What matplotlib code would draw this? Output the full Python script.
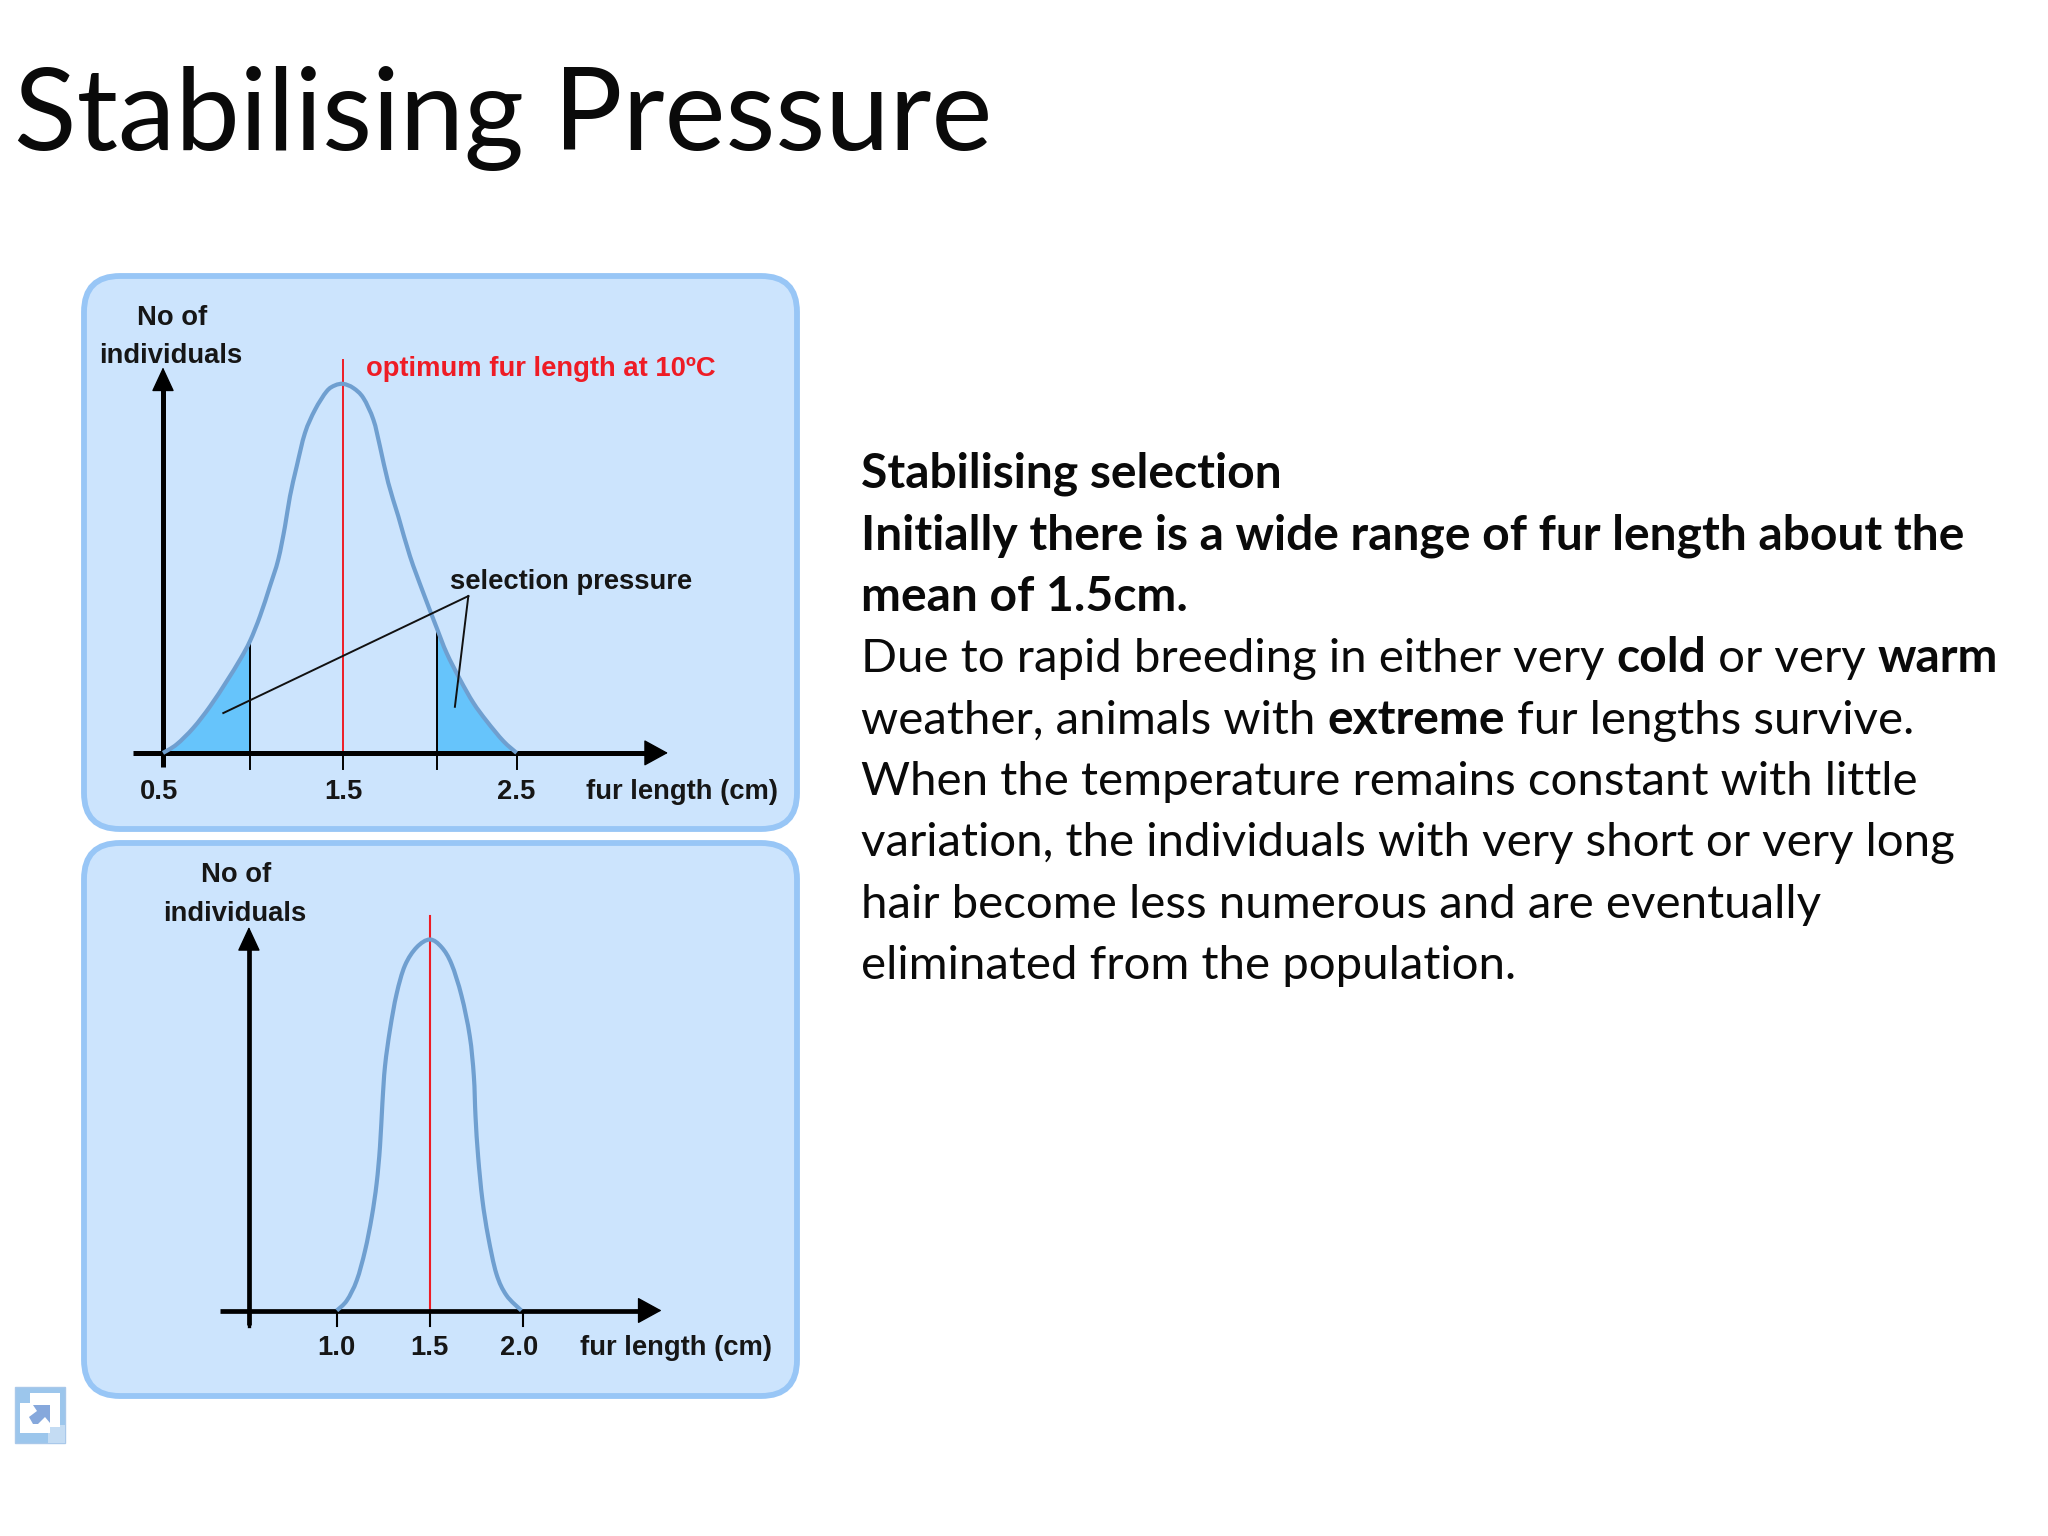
import matplotlib
matplotlib.use("Agg")
import matplotlib.pyplot as plt
from matplotlib.patches import FancyBboxPatch, Rectangle, Polygon, PathPatch
from matplotlib.path import Path

W, H = 2048, 1536
BODY = "Lato"
CHART = "Liberation Sans"

# upper graph: fur length (cm) and number of individuals (peak = 100)
x1 = [0.50, 0.577, 0.672, 0.766, 0.860, 0.936, 0.992, 1.049, 1.105, 1.152, 1.190, 1.218, 1.256, 1.303,
      1.360, 1.426, 1.473, 1.52, 1.576, 1.633, 1.69, 1.727, 1.774, 1.831, 1.897, 1.972, 2.048, 2.104,
      2.18, 2.255, 2.331, 2.425, 2.50]
y1 = [0.0, 2.3, 6.8, 12.6, 19.4, 25.3, 30.3, 37.1, 45.2, 52.4, 61.4, 69.5, 77.6, 86.7,
      93.0, 98.0, 99.6, 100.0, 98.9, 96.2, 90.3, 83.1, 73.2, 64.1, 53.3, 43.4, 33.9, 27.1,
      19.9, 13.6, 8.6, 3.2, 0.0]
left_cut, right_cut = 0.992, 2.048
labels1 = [(0.477, "0.5"), (1.52, "1.5"), (2.5, "2.5")]

# lower graph
x2 = [1.0, 1.054, 1.107, 1.152, 1.188, 1.214, 1.232, 1.245, 1.259, 1.286, 1.321, 1.366, 1.429,
      1.5, 1.563, 1.616, 1.67, 1.714, 1.736, 1.745, 1.759, 1.782, 1.813, 1.857, 1.911, 1.991]
y2 = [0.0, 2.7, 8.1, 16.2, 25.3, 34.3, 44.2, 56.0, 65.9, 75.8, 85.3, 93.0, 97.9,
      100.0, 97.9, 93.4, 84.8, 74.0, 63.2, 52.3, 41.5, 29.8, 19.9, 9.9, 4.1, 0.0]
ticks2 = [0.528, 1.0, 1.5, 2.0]
labels2 = [(1.0, "1.0"), (1.5, "1.5"), (1.98, "2.0")]

title = "Stabilising Pressure"
body_lines = [
    [("Stabilising selection", True)],
    [("Initially there is a wide range of fur length about the", True)],
    [("mean of 1.5cm.", True)],
    [("Due to rapid breeding in either very ", False), ("cold", True), (" or very ", False), ("warm", True)],
    [("weather, animals with ", False), ("extreme", True), (" fur lengths survive.", False)],
    [("When the temperature remains constant with little", False)],
    [("variation, the individuals with very short or very long", False)],
    [("hair become less numerous and are eventually", False)],
    [("eliminated from the population.", False)],
]
body_y = [471.5, 533, 594.5, 656, 717, 778.5, 840, 901, 962.5]

BORDER, PANEL, SHADE, CURVE = "#98c6f6", "#cce4fd", "#66c4fb", "#6f9fd0"
RED, INK = "#ee1c25", "#161616"
SIZE_BOLD, SIZE_REG = 34.6, 34.1

fig = plt.figure(figsize=(W / 100, H / 100), dpi=100, facecolor="white")
bg = fig.add_axes([0, 0, 1, 1])
bg.set_xlim(0, W)
bg.set_ylim(H, 0)
bg.axis("off")

for (l, t, r, b) in [(84, 276, 797, 829), (84, 843, 797, 1396)]:
    bg.add_patch(FancyBboxPatch((l, t), r - l, b - t,
                                boxstyle="round,pad=0,rounding_size=36",
                                fc=PANEL, ec=BORDER, lw=4.2))

# shortcut icon
bg.add_patch(Rectangle((15, 1387), 50, 56, fc="#9cc6ec", ec="#a9c8ea", lw=1))
bg.add_patch(Rectangle((48, 1425), 17, 18, fc="#c4dcf3", ec="none"))
bg.add_patch(Rectangle((30, 1393), 30, 34, fc="white", ec="none"))
bg.add_patch(Rectangle((20, 1403), 30, 30, fc="white", ec="none"))
bg.add_patch(Polygon([(33, 1424), (29, 1417), (37, 1411), (33, 1405), (50, 1405),
                      (50, 1423), (45, 1417), (38, 1424)], fc="#86a8dc", ec="none"))

fig.text(14 / W, 1 - 150 / H, title, family=BODY, fontsize=83, color="#0a0a0a", va="baseline")


def panel_axes(px_left, px_right, py_top, py_bottom, px_x0, x0, px_per_x, py_base, py_per_y):
    ax = fig.add_axes([px_left / W, 1 - py_bottom / H, (px_right - px_left) / W, (py_bottom - py_top) / H])
    ax.set_xlim(x0 + (px_left - px_x0) / px_per_x, x0 + (px_right - px_x0) / px_per_x)
    ax.set_ylim((py_base - py_bottom) / py_per_y, (py_base - py_top) / py_per_y)
    ax.axis("off")
    return ax


def arrow(ax, start, end, size):
    ax.annotate("", xy=end, xytext=start,
                arrowprops=dict(arrowstyle=f"-|>,head_length={size[0]},head_width={size[1]}",
                                color="black", lw=1.0, shrinkA=0, shrinkB=0,
                                mutation_scale=10), zorder=6)


def smooth_curve(ax, xs, ys):
    verts = [(xs[0], ys[0])]
    codes = [Path.MOVETO]
    n = len(xs)
    for i in range(n - 1):
        p0 = (xs[max(i - 1, 0)], ys[max(i - 1, 0)])
        p1 = (xs[i], ys[i])
        p2 = (xs[i + 1], ys[i + 1])
        p3 = (xs[min(i + 2, n - 1)], ys[min(i + 2, n - 1)])
        verts += [(p1[0] + (p2[0] - p0[0]) / 6, p1[1] + (p2[1] - p0[1]) / 6),
                  (p2[0] - (p3[0] - p1[0]) / 6, p2[1] - (p3[1] - p1[1]) / 6),
                  p2]
        codes += [Path.CURVE4] * 3
    ax.add_patch(PathPatch(Path(verts, codes), fc="none", ec=CURVE, lw=3, zorder=4))


TXT = dict(family=CHART, weight="bold", color=INK, fontsize=19.7, ha="center", va="center")

# ---- upper graph
ax = panel_axes(84, 797, 276, 829, 163, 0.5, 176.8, 752.9, 3.69)
li = x1.index(left_cut) + 1
ri = x1.index(right_cut)
ax.fill_between(x1[:li], 0, y1[:li], color=SHADE, lw=0)
ax.fill_between(x1[ri:], 0, y1[ri:], color=SHADE, lw=0)
ax.plot([1.52, 1.52], [0, 106.6], color=RED, lw=1.4)
ax.plot([left_cut, left_cut], [-4.3, y1[li - 1]], color="black", lw=1.4)
ax.plot([right_cut, right_cut], [-4.3, y1[ri]], color="black", lw=1.4)
for t in [1.52, 2.5]:
    ax.plot([t, t], [-4.3, 0], color="black", lw=1.4)
smooth_curve(ax, x1, y1)
ax.plot([2.227, 0.841], [42.5, 10.8], color="#111111", lw=1.4, zorder=5)
ax.plot([2.227, 2.151], [42.5, 12.5], color="#111111", lw=1.4, zorder=5)
ax.plot([0.5, 0.5], [-3.9, 100], color="black", lw=3.6, zorder=3, solid_capstyle="butt")
arrow(ax, (0.5, 97), (0.5, 104.5), (1.55, 0.72))
ax.plot([0.329, 3.25], [0, 0], color="black", lw=3.6, zorder=3, solid_capstyle="butt")
arrow(ax, (3.22, 0), (3.356, 0), (1.55, 0.85))
for xv, s in labels1:
    ax.text(xv, -10.6, s, **TXT)
ax.text(3.436, -10.6, "fur length (cm)", **TXT)
ax.text(0.552, 117.8, "No of", **TXT)
ax.text(0.546, 107.6, "individuals", **TXT)
ax.text(1.646, 104, "optimum fur length at 10ºC", **{**TXT, "color": RED, "ha": "left"})
ax.text(2.81, 46.2, "selection pressure", **TXT)

# ---- lower graph
ax = panel_axes(84, 797, 843, 1396, 336.8, 1.0, 186.2, 1310.5, 3.71)
ax.plot([1.5, 1.5], [0, 106.2], color=RED, lw=1.5)
for t in ticks2:
    ax.plot([t, t], [-4.2, 0], color="black", lw=1.5 if t != ticks2[0] else 2.4)
smooth_curve(ax, x2, y2)
ax.plot([0.528, 0.528], [-3.9, 98], color="black", lw=3.4, zorder=3, solid_capstyle="butt")
arrow(ax, (0.528, 96), (0.528, 103.4), (1.55, 0.72))
ax.plot([0.371, 2.64], [0, 0], color="black", lw=3.4, zorder=3, solid_capstyle="butt")
arrow(ax, (2.6, 0), (2.744, 0), (1.55, 0.85))
for xv, s in labels2:
    ax.text(xv, -10.2, s, **TXT)
ax.text(2.82, -10.2, "fur length (cm)", **TXT)
ax.text(0.457, 117.3, "No of", **TXT)
ax.text(0.45, 107, "individuals", **TXT)

# ---- body text
renderer = fig.canvas.get_renderer()
for parts, y in zip(body_lines, body_y):
    px = 861.0
    for s, bold in parts:
        w = "bold" if bold else "normal"
        fs = SIZE_BOLD if bold else SIZE_REG
        bg.text(px, y + 16.5, s, family=BODY, fontsize=fs, weight=w,
                color="#0a0a0a", ha="left", va="baseline")
        probe = bg.text(0, 0, "|" + s + "|", family=BODY, fontsize=fs, weight=w)
        bar = bg.text(0, 0, "||", family=BODY, fontsize=fs, weight=w)
        px += probe.get_window_extent(renderer).width - bar.get_window_extent(renderer).width
        probe.remove()
        bar.remove()

fig.savefig("out.png", dpi=100, facecolor="white")
